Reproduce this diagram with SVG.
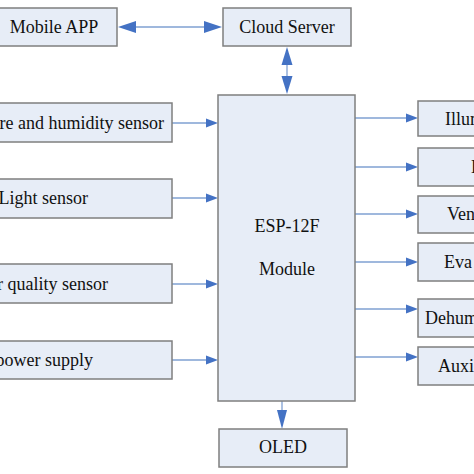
<svg xmlns="http://www.w3.org/2000/svg" width="474" height="474" viewBox="0 0 474 474">
<style>
.box{fill:#e7edf7;stroke:#7f7f7f;stroke-width:1.5}
text{font-family:'Liberation Serif','Times New Roman',Times,serif;font-size:18px;fill:#111}
.c{text-anchor:middle}
.e{text-anchor:end}
.ln{stroke:#7fa0d2;stroke-width:1.3;fill:none}
.head{fill:#4472c4}
</style>
<rect width="474" height="474" fill="#fff"/>
<g id="connectors">
<line class="ln" x1="130" y1="27" x2="210" y2="27"/>
<path class="head" d="M118,27 L136,21 L136,33 Z"/>
<path class="head" d="M222,27 L204,21 L204,33 Z"/>
<line class="ln" x1="287" y1="60" x2="287" y2="80"/>
<path class="head" d="M287,47 L281.5,65 L292.5,65 Z"/>
<path class="head" d="M287,94 L281.5,76 L292.5,76 Z"/>
<line class="ln" x1="172" y1="123" x2="208" y2="123"/>
<path class="head" d="M218,123 L206,118.5 L206,127.5 Z"/>
<line class="ln" x1="172" y1="198" x2="208" y2="198"/>
<path class="head" d="M218,198 L206,193.5 L206,202.5 Z"/>
<line class="ln" x1="172" y1="284" x2="208" y2="284"/>
<path class="head" d="M218,284 L206,279.5 L206,288.5 Z"/>
<line class="ln" x1="172" y1="360" x2="208" y2="360"/>
<path class="head" d="M218,360 L206,355.5 L206,364.5 Z"/>
<line class="ln" x1="355" y1="118" x2="408" y2="118"/>
<path class="head" d="M418,118 L406,113.5 L406,122.5 Z"/>
<line class="ln" x1="355" y1="167" x2="408" y2="167"/>
<path class="head" d="M418,167 L406,162.5 L406,171.5 Z"/>
<line class="ln" x1="355" y1="214" x2="408" y2="214"/>
<path class="head" d="M418,214 L406,209.5 L406,218.5 Z"/>
<line class="ln" x1="355" y1="262" x2="408" y2="262"/>
<path class="head" d="M418,262 L406,257.5 L406,266.5 Z"/>
<line class="ln" x1="355" y1="309" x2="408" y2="309"/>
<path class="head" d="M418,309 L406,304.5 L406,313.5 Z"/>
<line class="ln" x1="355" y1="357" x2="408" y2="357"/>
<path class="head" d="M418,357 L406,352.5 L406,361.5 Z"/>
<line class="ln" x1="282" y1="401" x2="282" y2="412"/>
<path class="head" d="M282,429 L277,410 L287,410 Z"/>
</g>
<g id="mobile"><rect class="box" x="-2" y="8" width="119" height="38"/><text class="c" x="54" y="33">Mobile APP</text></g>
<g id="cloud"><rect class="box" x="223" y="8" width="128" height="38"/><text class="c" x="287" y="33">Cloud Server</text></g>
<g id="esp"><rect class="box" x="218" y="95" width="137" height="306"/><text class="c" x="287" y="232">ESP-12F</text><text class="c" x="287" y="275">Module</text></g>
<g id="oled"><rect class="box" x="219" y="429" width="128" height="38"/><text class="c" x="283" y="453">OLED</text></g>
<g id="temp"><rect class="box" x="-10" y="103" width="182" height="39"/><text class="e" x="164" y="129">re and humidity sensor</text></g>
<g id="light"><rect class="box" x="-10" y="179" width="182" height="39"/><text class="e" x="88" y="204">Light sensor</text></g>
<g id="air"><rect class="box" x="-10" y="264" width="182" height="39"/><text class="e" x="108" y="290">r quality sensor</text></g>
<g id="power"><rect class="box" x="-10" y="341" width="182" height="38"/><text class="e" x="93" y="366">power supply</text></g>
<g id="illum"><rect class="box" x="418" y="101" width="70" height="35"/><text x="445" y="125">Illum</text></g>
<g id="out2"><rect class="box" x="418" y="148" width="70" height="38"/><text x="471" y="173">H</text></g>
<g id="vent"><rect class="box" x="418" y="196" width="70" height="37"/><text x="447" y="220">Ven</text></g>
<g id="eva"><rect class="box" x="418" y="243" width="70" height="38"/><text x="444" y="268">Eva</text></g>
<g id="dehum"><rect class="box" x="418" y="299" width="70" height="38"/><text x="425" y="324">Dehum</text></g>
<g id="auxi"><rect class="box" x="418" y="347" width="70" height="38"/><text x="438" y="372">Auxi</text></g>
</svg>
